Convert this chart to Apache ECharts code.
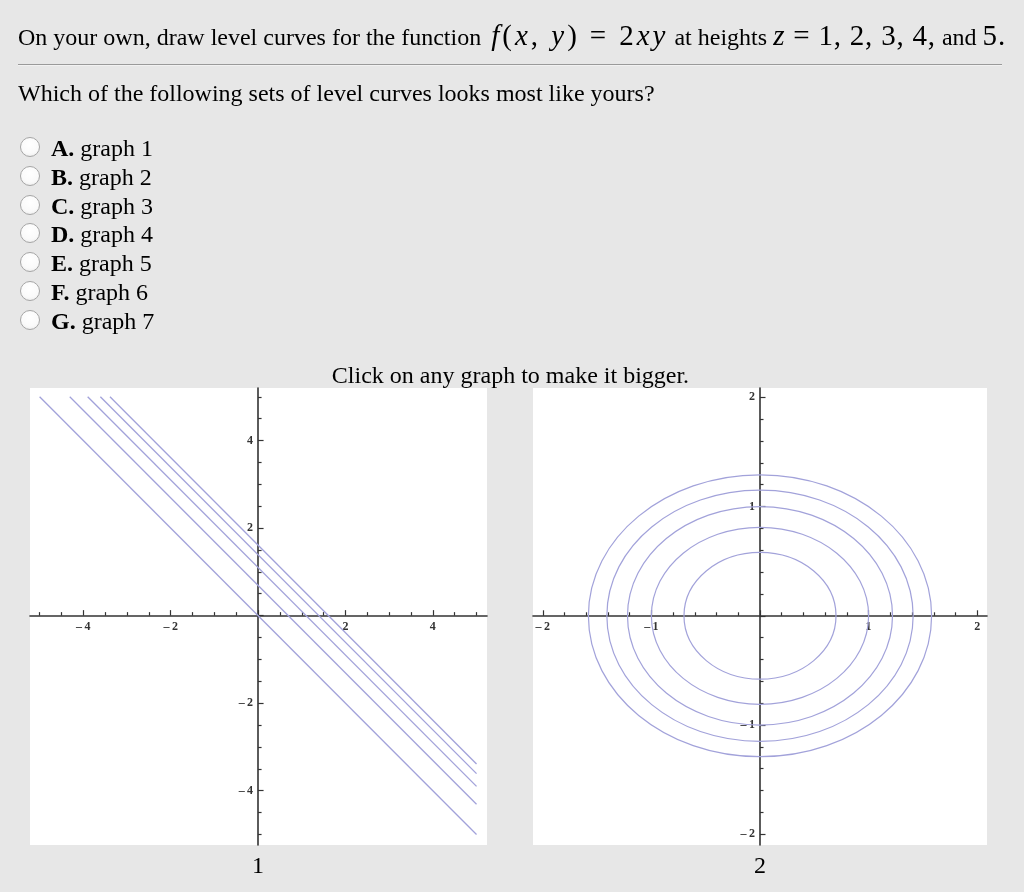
<!DOCTYPE html>
<html>
<head>
<meta charset="utf-8">
<script src="https://cdn.jsdelivr.net/npm/echarts@6/dist/echarts.min.js"></script>
<style>
html, body { margin: 0; padding: 0; width: 1024px; height: 892px; overflow: hidden; background: #e7e7e7; }
body { font-family: 'Liberation Serif', 'Times New Roman', serif; color: #000; position: relative; }
#chart { position: absolute; left: 0; top: 0; width: 1024px; height: 892px; }
.t { position: absolute; white-space: nowrap; font-size: 24px; line-height: 24px; z-index: 2; }
.m1 { font-size: 29px; letter-spacing: 3px; margin-left: 4px; }
.m2 { font-size: 29px; letter-spacing: 0.8px; }
.i { font-style: italic; }
.eq1 { padding: 0 10px; }
.eq2 { padding: 0 8px; }
.hr { position: absolute; left: 18px; width: 984px; top: 64px; height: 0; border-top: 1px solid #9a9a9a; border-bottom: 1px solid #f2f2f2; z-index: 2; }
.radio { position: absolute; left: 20px; width: 18px; height: 18px; border-radius: 50%; border: 1px solid #a5a5a5;
  background: radial-gradient(circle at 50% 35%, #ffffff 0%, #fafafa 60%, #e6e6e6 100%); z-index: 2; }
b { font-weight: bold; }
</style>
</head>
<body>
<div id="chart"></div>

<div class="t" style="left:18px; top:22.5px;">On your own, draw level curves for the function <span class="m1"><span class="i">f</span>(<span class="i">x</span>, <span class="i">y</span>)<span class="eq1">=</span>2<span class="i">xy</span></span> at heights <span class="m2"><span class="i">z</span><span class="eq2">=</span>1, 2, 3, 4,</span> and <span class="m2">5.</span></div>
<div class="hr"></div>
<div class="t" style="left:18px; top:81px;">Which of the following sets of level curves looks most like yours?</div>

<div id="opts"></div>

<div class="t" style="left:0; width:1021px; text-align:center; top:363px;">Click on any graph to make it bigger.</div>
<div class="t" style="left:208px; width:100px; text-align:center; top:853px;">1</div>
<div class="t" style="left:710px; width:100px; text-align:center; top:853px;">2</div>

<script>
// ---- answer options ----
const optionLetters = ['A.', 'B.', 'C.', 'D.', 'E.', 'F.', 'G.'];
const optionTexts = ['graph 1', 'graph 2', 'graph 3', 'graph 4', 'graph 5', 'graph 6', 'graph 7'];

// ---- graph 1: straight level curves, endpoints [x1, y1, x2, y2] ----
const g1Line1 = [-5.0, 5.0, 5.0, -5.0];
const g1Line2 = [-4.31, 5.0, 5.0, -4.31];
const g1Line3 = [-3.90, 5.0, 5.0, -3.90];
const g1Line4 = [-3.61, 5.0, 5.0, -3.61];
const g1Line5 = [-3.39, 5.0, 5.0, -3.39];
const g1Lines = [g1Line1, g1Line2, g1Line3, g1Line4, g1Line5];

// ---- graph 2: elliptical level curves centred on the origin ----
const g2Center = [0, 0];
const g2SemiAxisX = [0.70, 1.00, 1.22, 1.41, 1.58];
const g2SemiAxisY = [0.58, 0.81, 1.00, 1.15, 1.29];

// ---- axis ranges ----
const g1XRange = [-5.22, 5.24];
const g1YRange = [-5.24, 5.20];
const g2XRange = [-2.09, 2.09];
const g2YRange = [-2.098, 2.085];

// ---- ticks and tick labels ----
const g1MajorTicks = [-4, -2, 0, 2, 4];
const g1MinorTicks = [-5, -4.5, -3.5, -3, -2.5, -1.5, -1, -0.5, 0.5, 1, 1.5, 2.5, 3, 3.5, 4.5, 5];
const g1TickLabels = [-4, -2, 2, 4];
const g2MajorTicks = [-2, -1, 0, 1, 2];
const g2MinorTicks = [-1.8, -1.6, -1.4, -1.2, -0.8, -0.6, -0.4, -0.2, 0.2, 0.4, 0.6, 0.8, 1.2, 1.4, 1.6, 1.8];
const g2TickLabels = [-2, -1, 1, 2];

// build option list
const optsEl = document.getElementById('opts');
optionLetters.forEach(function (l, i) {
  const top = 135.7 + i * 28.9;
  const r = document.createElement('div');
  r.className = 'radio';
  r.style.top = (top + 1) + 'px';
  optsEl.appendChild(r);
  const t = document.createElement('div');
  t.className = 't';
  t.style.left = '51px';
  t.style.top = top + 'px';
  t.innerHTML = '<b>' + l + '</b> ' + optionTexts[i];
  optsEl.appendChild(t);
});

const curveColor = '#a2a2da';
const axisColor = '#333333';

const grids = [
  { left: 30, top: 388, width: 457, height: 457 },
  { left: 533, top: 388, width: 454, height: 457 }
];

function fmt(v) {
  return v < 0 ? '\u2013\u2009' + Math.abs(v) : String(v);
}

// offset that puts an edge axis onto the zero line of the crossing axis
function zeroOffset(range, size) {
  return -size * (0 - range[0]) / (range[1] - range[0]);
}

function makeAxis(dim, gridIndex, range, crossRange, ticks, labels, tickLen, showLine) {
  const g = grids[gridIndex];
  return {
    type: 'value',
    gridIndex: gridIndex,
    min: range[0],
    max: range[1],
    position: dim === 'x' ? 'bottom' : 'left',
    offset: zeroOffset(crossRange, dim === 'x' ? g.height : g.width),
    axisLine: { show: showLine, onZero: false, lineStyle: { color: axisColor, width: 1.6 } },
    axisTick: { show: true, inside: true, length: tickLen, customValues: ticks, lineStyle: { color: axisColor, width: 1.2 } },
    axisLabel: labels ? {
      show: true, customValues: labels, margin: 5,
      fontSize: 12, fontWeight: 'bold', fontFamily: 'Liberation Serif', color: '#333', formatter: fmt
    } : { show: false },
    splitLine: { show: false },
    z: 1
  };
}

const chart = echarts.init(document.getElementById('chart'), null, { renderer: 'canvas' });

const g1Series = {
  type: 'custom', xAxisIndex: 0, yAxisIndex: 0, silent: true, z: 3,
  data: g1Lines,
  renderItem: function (params, api) {
    const p1 = api.coord([api.value(0), api.value(1)]);
    const p2 = api.coord([api.value(2), api.value(3)]);
    return {
      type: 'line',
      shape: { x1: p1[0], y1: p1[1], x2: p2[0], y2: p2[1] },
      style: { stroke: curveColor, lineWidth: 1.3, fill: null }
    };
  }
};

const g2Series = {
  type: 'custom', xAxisIndex: 2, yAxisIndex: 2, silent: true, z: 3,
  data: g2SemiAxisX.map(function (a, i) { return [a, g2SemiAxisY[i]]; }),
  renderItem: function (params, api) {
    const c = api.coord(g2Center);
    const rx = api.size([api.value(0), 0])[0];
    const ry = api.size([0, api.value(1)])[1];
    return {
      type: 'ellipse',
      shape: { cx: c[0], cy: c[1], rx: rx, ry: ry },
      style: { fill: 'none', stroke: curveColor, lineWidth: 1.2 }
    };
  }
};

chart.setOption({
  animation: false,
  backgroundColor: 'transparent',
  grid: grids.map(function (g) {
    return { left: g.left, top: g.top, width: g.width, height: g.height, show: true, backgroundColor: '#ffffff', borderWidth: 0 };
  }),
  xAxis: [
    makeAxis('x', 0, g1XRange, g1YRange, g1MajorTicks, g1TickLabels, 5.5, true),
    makeAxis('x', 0, g1XRange, g1YRange, g1MinorTicks, null, 3.5, false),
    makeAxis('x', 1, g2XRange, g2YRange, g2MajorTicks, g2TickLabels, 5.5, true),
    makeAxis('x', 1, g2XRange, g2YRange, g2MinorTicks, null, 3.5, false)
  ],
  yAxis: [
    makeAxis('y', 0, g1YRange, g1XRange, g1MajorTicks, g1TickLabels, 5.5, true),
    makeAxis('y', 0, g1YRange, g1XRange, g1MinorTicks, null, 3.5, false),
    makeAxis('y', 1, g2YRange, g2XRange, g2MajorTicks, g2TickLabels, 5.5, true),
    makeAxis('y', 1, g2YRange, g2XRange, g2MinorTicks, null, 3.5, false)
  ],
  series: [g1Series, g2Series]
});
</script>
</body>
</html>
